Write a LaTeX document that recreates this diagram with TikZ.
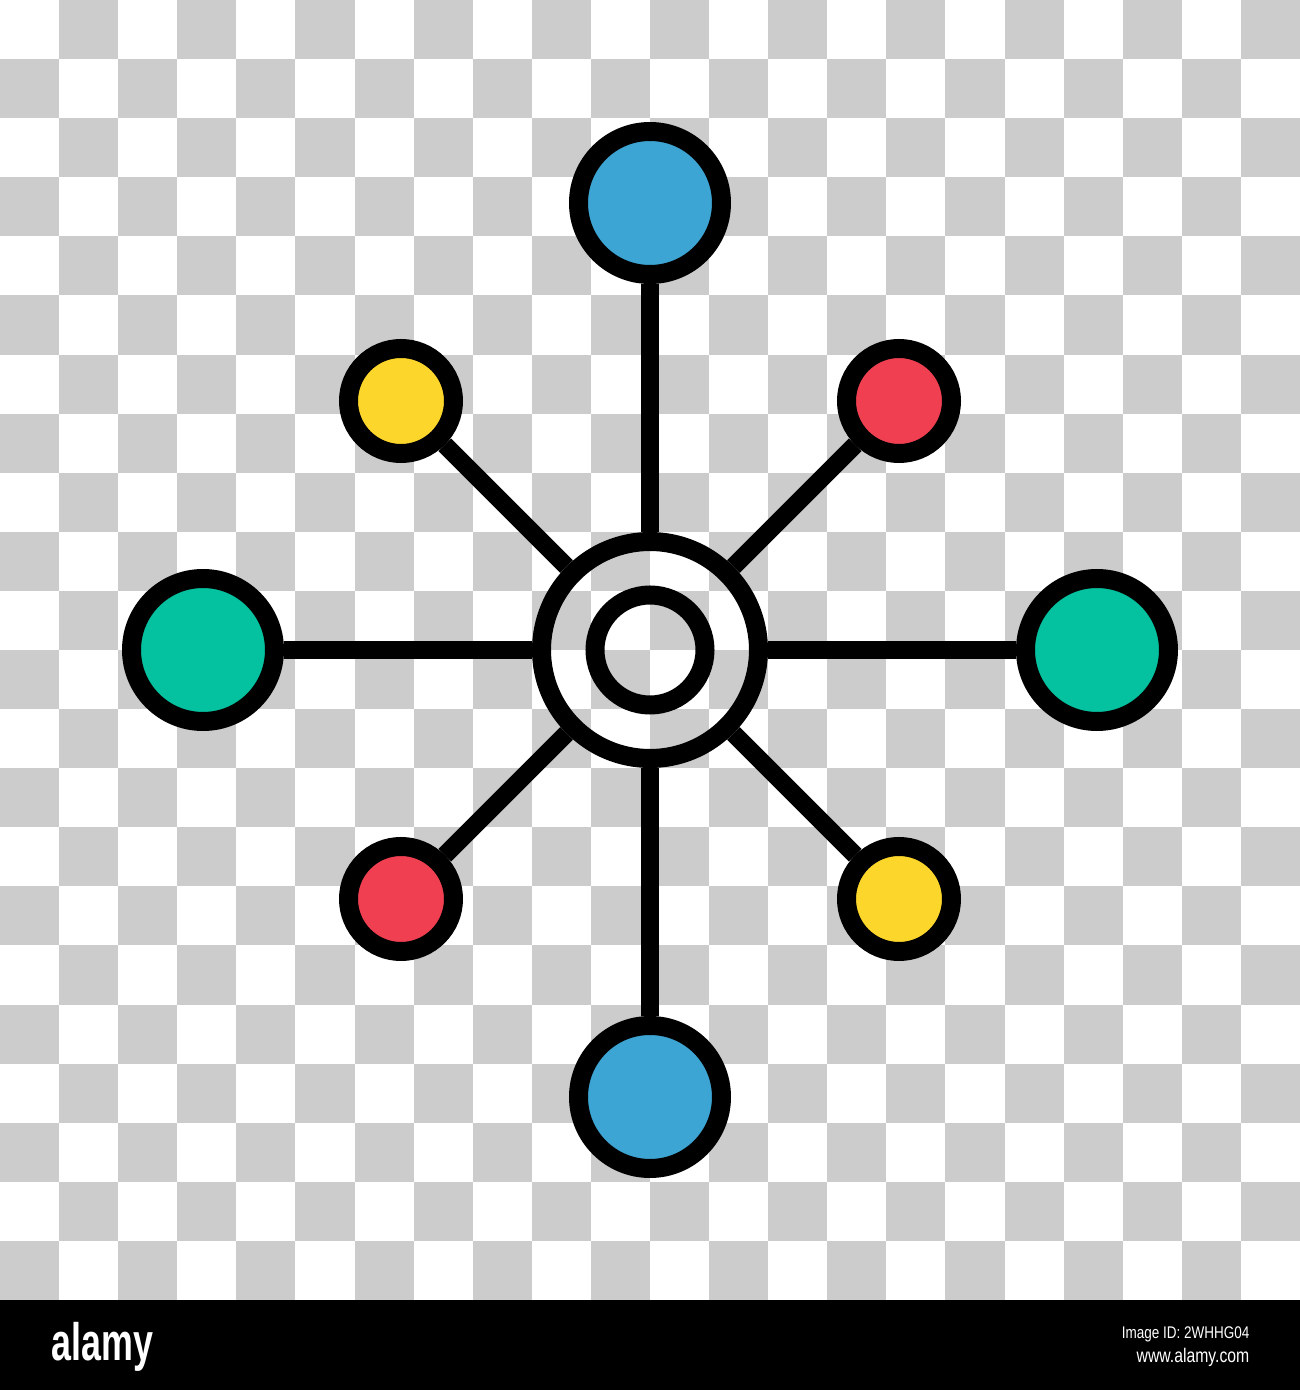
\documentclass[tikz,border=0pt]{standalone}
\usepackage{fontspec}
\setmainfont{Liberation Sans}
\definecolor{hubblue}{HTML}{3CA5D4}
\definecolor{hubgreen}{HTML}{04C19F}
\definecolor{hubyellow}{HTML}{FDD62B}
\definecolor{hubred}{HTML}{EF3F51}
\definecolor{checkgray}{HTML}{CCCCCC}
\tikzset{
  bignode/.style={circle, draw=black, line width=0.19cm, minimum size=1.43cm, inner sep=0pt},
  smallnode/.style={circle, draw=black, line width=0.19cm, minimum size=1.05cm, inner sep=0pt},
  spoke/.style={draw=black, line width=0.18cm}
}
\begin{document}
\begin{tikzpicture}[scale=1]
    \useasboundingbox (0, 0) rectangle (13, 13.9);
    % checkerboard
    \fill[white] (0, 0.9) rectangle (13, 13.9);
    \foreach \i in {0,...,21} {
      \foreach \j in {0,...,21} {
        \pgfmathtruncatemacro\k{mod(\i+\j,2)}
        \ifnum\k=1
          \fill[checkgray] ({\i*13/22}, {13.9-\j*13/22}) rectangle ({(\i+1)*13/22}, {13.9-(\j+1)*13/22});
        \fi
      }
    }
    % bottom bar
    \fill[black] (0, 0) rectangle (13, 0.9);
    \node[anchor=base west, text=white, inner sep=0pt] (brand) at (0.51, 0.30)
      {\scalebox{0.68}[1]{\fontsize{15pt}{15pt}\selectfont\bfseries alamy}};
    \node[anchor=base east, text=white, inner sep=0pt] (imageid) at (12.5, 0.52)
      {\scalebox{0.8}[1]{\fontsize{4.8pt}{5pt}\selectfont Image ID: 2WHHG04}};
    \node[anchor=base east, text=white, inner sep=0pt] (site) at (12.5, 0.28)
      {\scalebox{0.8}[1]{\fontsize{5.6pt}{6pt}\selectfont www.alamy.com}};
    % hub
    \node[circle, draw=black, line width=0.19cm, minimum size=2.17cm, inner sep=0pt] (hub) at (6.5, 7.4) {};
    \node[circle, draw=black, line width=0.19cm, minimum size=1.10cm, inner sep=0pt] (core) at (6.5, 7.4) {};
    % outer nodes
    \node[bignode, fill=hubblue] (top) at (6.5, 11.87) {};
    \node[bignode, fill=hubblue] (bottom) at (6.5, 2.93) {};
    \node[bignode, fill=hubgreen] (left) at (2.03, 7.4) {};
    \node[bignode, fill=hubgreen] (right) at (10.97, 7.4) {};
    \node[smallnode, fill=hubyellow] (topleft) at (4.01, 9.89) {};
    \node[smallnode, fill=hubred] (topright) at (8.99, 9.89) {};
    \node[smallnode, fill=hubred] (bottomleft) at (4.01, 4.91) {};
    \node[smallnode, fill=hubyellow] (bottomright) at (8.99, 4.91) {};
    \foreach \n in {top, bottom, left, right, topleft, topright, bottomleft, bottomright}
      \draw[spoke] (hub) -- (\n);
  \end{tikzpicture}
\end{document}
